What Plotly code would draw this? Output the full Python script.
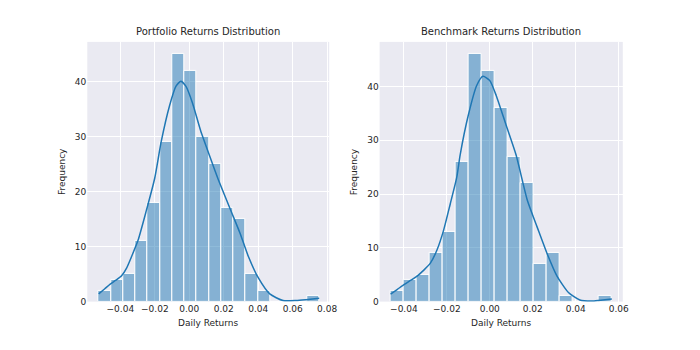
import plotly.graph_objects as go

# Histogram of daily returns (bin start, bin width, counts per bin)
port_bin_start = -0.0526
port_bin_width = 0.00711
port_counts = [2, 4, 5, 11, 18, 29, 45, 42, 30, 25, 17, 15, 5, 2, 0, 0, 0, 1]

bench_bin_start = -0.0462
bench_bin_width = 0.00606
bench_counts = [2, 4, 5, 9, 13, 26, 46, 43, 36, 27, 22, 7, 9, 1, 0, 0, 1]

# Kernel density curves (scaled to counts)
port_kde_x = [-0.0526, -0.0492, -0.0459, -0.0426, -0.0393, -0.0364, -0.0335, -0.0297, -0.0249,
              -0.0201, -0.0163, -0.0115, -0.0077, -0.0049, -0.0020, 0.0018, 0.0066, 0.0123,
              0.0171, 0.0238, 0.0295, 0.0343, 0.0401, 0.0467, 0.0544, 0.0620, 0.0677, 0.0754]
port_kde_y = [1.4, 2.3, 3.2, 3.9, 4.7, 6.1, 8.2, 11.2, 16.6,
              22.4, 29.1, 35.6, 39.2, 40.1, 39.2, 36.2, 31.1, 26.1,
              22.0, 16.8, 12.4, 8.2, 4.3, 1.4, 0.2, 0.2, 0.35, 0.6]

bench_kde_x = [-0.0462, -0.0430, -0.0398, -0.0367, -0.0337, -0.0306, -0.0276, -0.0245, -0.0215,
               -0.0184, -0.0154, -0.0138, -0.0100, -0.0061, -0.0032, 0.0000, 0.0030, 0.0076,
               0.0122, 0.0175, 0.0220, 0.0266, 0.0312, 0.0366, 0.0419, 0.0480, 0.0526, 0.0568]
bench_kde_y = [1.4, 2.3, 3.2, 4.0, 4.8, 5.9, 7.2, 9.7, 13.3,
               18.2, 23.1, 27.3, 34.7, 40.2, 41.9, 41.1, 38.3, 32.8,
               27.3, 18.8, 13.9, 9.0, 4.8, 1.7, 0.3, 0.1, 0.3, 0.5]

titles = ["Portfolio Returns Distribution", "Benchmark Returns Distribution"]
x_label = "Daily Returns"
y_label = "Frequency"

BAR_FILL = "rgba(31,119,180,0.5)"
LINE = "#1f77b4"
TEXT = "#262626"
FONT = "DejaVu Sans"

fig = go.Figure()

panels = [
    (port_bin_start, port_bin_width, port_counts, port_kde_x, port_kde_y, "x", "y"),
    (bench_bin_start, bench_bin_width, bench_counts, bench_kde_x, bench_kde_y, "x2", "y2"),
]
for start, width, counts, kx, ky, xa, ya in panels:
    edges = [start + i * width for i in range(len(counts))]
    fig.add_trace(go.Bar(
        x=edges, y=counts, width=[width] * len(counts), offset=0,
        marker=dict(color=BAR_FILL, line=dict(color="white", width=1)),
        xaxis=xa, yaxis=ya, showlegend=False, hoverinfo="skip",
    ))
    fig.add_trace(go.Scatter(
        x=kx, y=ky, mode="lines", line=dict(color=LINE, width=1.5, shape="spline", smoothing=0.6),
        xaxis=xa, yaxis=ya, showlegend=False, hoverinfo="skip",
    ))

axis_common = dict(
    showgrid=True, gridcolor="white", gridwidth=1, zeroline=False,
    showline=False, ticks="", tickfont=dict(family=FONT, size=9, color=TEXT),
)

W, H = 700, 350
dom1 = [88.3 / W, 333 / W]
dom2 = [384 / W, 630 / W]
ydom = [44 / H, 1 - 42.5 / H]

fig.update_layout(
    width=W, height=H,
    margin=dict(l=0, r=0, t=0, b=0),
    paper_bgcolor="white", plot_bgcolor="#EAEAF2",
    bargap=0,
    font=dict(family=FONT, color=TEXT),
    xaxis=dict(domain=dom1, range=[-0.0592, 0.0812], tickvals=[-0.04, -0.02, 0, 0.02, 0.04, 0.06, 0.08],
               tickformat=".2f", anchor="y", **axis_common),
    yaxis=dict(domain=ydom, range=[0, 47.25], tickvals=[0, 10, 20, 30, 40], anchor="x", **axis_common),
    xaxis2=dict(domain=dom2, range=[-0.0513, 0.0619], tickvals=[-0.04, -0.02, 0, 0.02, 0.04, 0.06],
                tickformat=".2f", anchor="y2", **axis_common),
    yaxis2=dict(domain=ydom, range=[0, 48.3], tickvals=[0, 10, 20, 30, 40], anchor="x2", **axis_common),
)

annotations = []
for dom, title in zip([dom1, dom2], titles):
    cx = (dom[0] + dom[1]) / 2
    annotations.append(dict(text=title, x=cx, y=ydom[1], xref="paper", yref="paper",
                            xanchor="center", yanchor="bottom", yshift=3, showarrow=False,
                            font=dict(family=FONT, size=10, color=TEXT)))
    annotations.append(dict(text=x_label, x=cx, y=ydom[0], xref="paper", yref="paper",
                            xanchor="center", yanchor="top", yshift=-14, showarrow=False,
                            font=dict(family=FONT, size=9, color=TEXT)))
    annotations.append(dict(text=y_label, x=dom[0], y=(ydom[0] + ydom[1]) / 2, xref="paper", yref="paper",
                            xanchor="right", yanchor="middle", xshift=-19, textangle=-90, showarrow=False,
                            font=dict(family=FONT, size=9, color=TEXT)))
fig.update_layout(annotations=annotations)

fig.write_html("out.html")
